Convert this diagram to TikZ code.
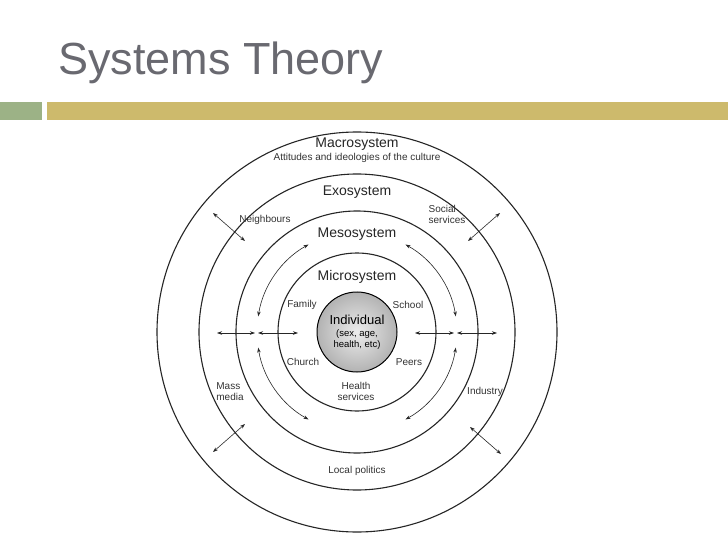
\documentclass[tikz,border=0pt]{standalone}
\usepackage{fontspec}
\setmainfont{Liberation Sans}
\usetikzlibrary{arrows.meta}
\definecolor{bargold}{RGB}{205,186,108}
\definecolor{bargreen}{RGB}{156,178,134}
\definecolor{titlegray}{RGB}{105,105,112}
\begin{document}
\begin{tikzpicture}[x=1bp,y=-1bp,
  ring/.style={draw=black!85,line width=1.1bp},
  arr/.style={{Stealth[length=5bp,width=3.5bp]}-{Stealth[length=5bp,width=3.5bp]},line width=0.6bp,black!85},
  big/.style={font=\fontsize{14bp}{15bp}\selectfont,text=black!85},
  sm/.style={font=\fontsize{10bp}{11bp}\selectfont,text=black!80,align=center}]
\useasboundingbox (0,0) rectangle (728,546);
\fill[white] (0,0) rectangle (728,546);
\node[anchor=base west,text=titlegray,font=\fontsize{45bp}{50bp}\selectfont,inner sep=0] (title) at (58,75) {Systems Theory};
\fill[bargreen] (0,102) rectangle (42,120);
\fill[bargold] (47,102) rectangle (728,120);
\coordinate (c) at (357,332);
\draw[ring] (c) circle[radius=200];
\draw[ring] (c) circle[radius=158];
\draw[ring] (c) circle[radius=121];
\draw[ring] (c) circle[radius=79];
\shade[inner color=gray!15,outer color=gray!60,draw=black,line width=1bp] (c) circle[radius=40];
\node[big] (macro) at (357,144) {Macrosystem};
\node[sm] (att) at (357,158) {Attitudes and ideologies of the culture};
\node[big] (exo) at (357,192) {Exosystem};
\node[big] (meso) at (357,234) {Mesosystem};
\node[big] (micro) at (357,277) {Microsystem};
\node[sm] (neigh) at (265,220) {Neighbours};
\node[sm,align=left] (soc) at (447,214) {Social\\services};
\node[sm] (fam) at (302,305) {Family};
\node[sm] (sch) at (408,305) {School};
\node[big,font=\fontsize{13bp}{13bp}\selectfont,text=black] (ind) at (357,320) {Individual};
\node[sm,text=black,font=\fontsize{9.5bp}{11bp}\selectfont] (indsub) at (357,340) {(sex, age,\\health, etc)};
\node[sm] (church) at (303,362) {Church};
\node[sm] (peers) at (409,362) {Peers};
\node[sm] (health) at (356,391) {Health\\services};
\node[sm,align=left] (mass) at (230,392) {Mass\\media};
\node[sm] (ind2) at (485,392) {Industry};
\node[sm] (local) at (357,471) {Local politics};
% horizontal arrows
\coordinate (h1) at (217,333); \coordinate (h2) at (255,333);
\coordinate (h3) at (258,333); \coordinate (h4) at (298,333);
\coordinate (h5) at (415,333); \coordinate (h6) at (454,333);
\coordinate (h7) at (457,333); \coordinate (h8) at (497,333);
\draw[arr] (h1) -- (h2); \draw[arr] (h3) -- (h4);
\draw[arr] (h5) -- (h6); \draw[arr] (h7) -- (h8);
% diagonal arrows
\coordinate (d1) at (213,213); \coordinate (d2) at (245,241);
\coordinate (d3) at (468,241); \coordinate (d4) at (500,213);
\coordinate (d5) at (213,452); \coordinate (d6) at (245,424);
\coordinate (d7) at (470,427); \coordinate (d8) at (501,454);
\draw[arr] (d1) -- (d2); \draw[arr] (d3) -- (d4);
\draw[arr] (d5) -- (d6); \draw[arr] (d7) -- (d8);
% curved arrows
\draw[arr] (c) ++(-119:100) arc[start angle=-119,end angle=-171,radius=100];
\draw[arr] (c) ++(-61:100) arc[start angle=-61,end angle=-9,radius=100];
\draw[arr] (c) ++(-189:100) arc[start angle=-189,end angle=-241,radius=100];
\draw[arr] (c) ++(-351:100) arc[start angle=-351,end angle=-299,radius=100];
\end{tikzpicture}
\end{document}
